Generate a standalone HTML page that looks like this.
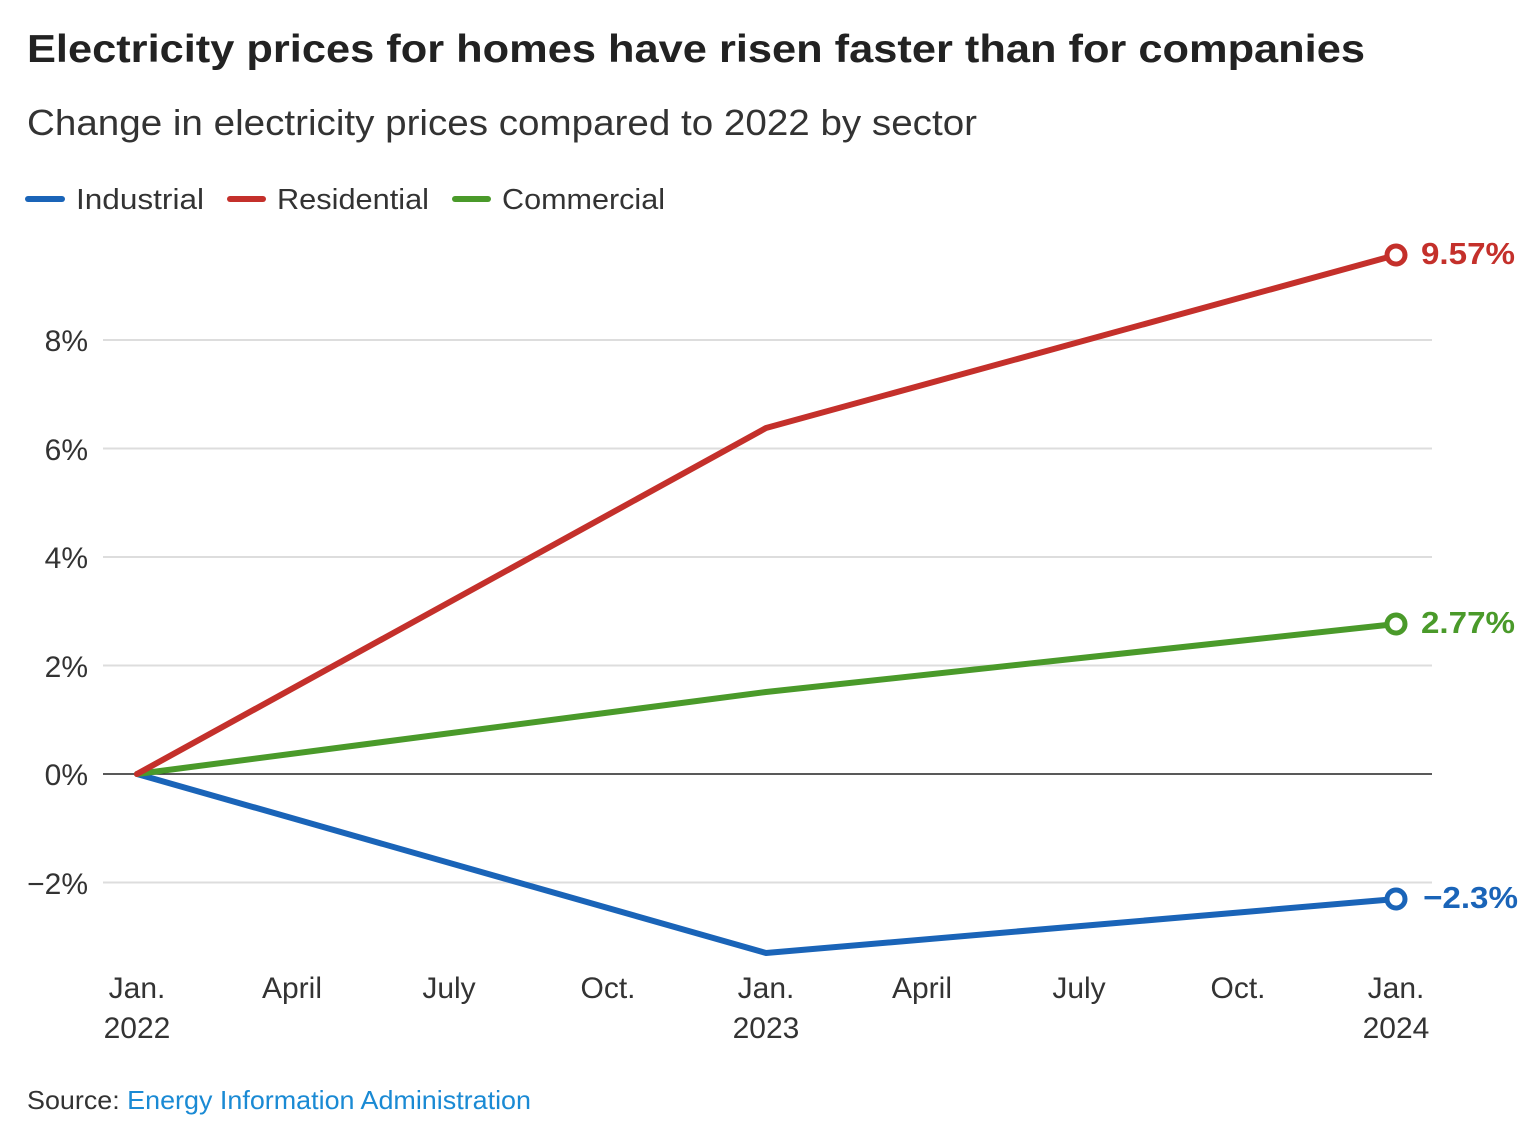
<!DOCTYPE html>
<html><head><meta charset="utf-8"><style>
body{margin:0;background:#fff;}
svg{display:block;font-family:"Liberation Sans",sans-serif;}
</style></head><body>
<svg width="1536" height="1136" viewBox="0 0 1536 1136" xmlns="http://www.w3.org/2000/svg">
<text x="27" y="62" font-size="39" font-weight="bold" fill="#222" textLength="1338" lengthAdjust="spacingAndGlyphs">Electricity prices for homes have risen faster than for companies</text>
<text x="27" y="135" font-size="36" fill="#333" textLength="950" lengthAdjust="spacingAndGlyphs">Change in electricity prices compared to 2022 by sector</text>
<g font-size="29" fill="#333">
<line x1="28" y1="199" x2="62" y2="199" stroke="#1a64b8" stroke-width="6" stroke-linecap="round"/>
<text x="76" y="209" textLength="128" lengthAdjust="spacingAndGlyphs">Industrial</text>
<line x1="230" y1="199" x2="263" y2="199" stroke="#c4302b" stroke-width="6" stroke-linecap="round"/>
<text x="277" y="209" textLength="152" lengthAdjust="spacingAndGlyphs">Residential</text>
<line x1="455" y1="199" x2="488" y2="199" stroke="#4a9a2a" stroke-width="6" stroke-linecap="round"/>
<text x="502" y="209" textLength="163" lengthAdjust="spacingAndGlyphs">Commercial</text>
</g>
<g stroke="#ddd" stroke-width="2">
<line x1="103" y1="340" x2="1432" y2="340"/>
<line x1="103" y1="448.5" x2="1432" y2="448.5"/>
<line x1="103" y1="557" x2="1432" y2="557"/>
<line x1="103" y1="665.5" x2="1432" y2="665.5"/>
<line x1="103" y1="882.5" x2="1432" y2="882.5"/>
</g>
<line x1="103" y1="774" x2="1432" y2="774" stroke="#222" stroke-width="1.5"/>
<g font-size="30" fill="#333" text-anchor="end">
<text x="88" y="351">8%</text>
<text x="88" y="460">6%</text>
<text x="88" y="568">4%</text>
<text x="88" y="677">2%</text>
<text x="88" y="785">0%</text>
<text x="88" y="894">−2%</text>
</g>
<g font-size="30" fill="#333" text-anchor="middle">
<text x="137" y="998">Jan.</text><text x="137" y="1038">2022</text>
<text x="292" y="998">April</text>
<text x="449" y="998">July</text>
<text x="608" y="998">Oct.</text>
<text x="766" y="998">Jan.</text><text x="766" y="1038">2023</text>
<text x="922" y="998">April</text>
<text x="1079" y="998">July</text>
<text x="1238" y="998">Oct.</text>
<text x="1396" y="998">Jan.</text><text x="1396" y="1038">2024</text>
</g>
<g fill="none" stroke-width="6" stroke-linejoin="round" stroke-linecap="round">
<polyline points="137,774 766,953 1396,899" stroke="#1a64b8"/>
<polyline points="137,774 766,692 1396,624" stroke="#4a9a2a"/>
<polyline points="137,774 766,428 1396,255" stroke="#c4302b"/>
</g>
<circle cx="1396" cy="255" r="9" fill="#fff" stroke="#c4302b" stroke-width="5"/>
<circle cx="1396" cy="624" r="9" fill="#fff" stroke="#4a9a2a" stroke-width="5"/>
<circle cx="1396" cy="899" r="9" fill="#fff" stroke="#1a64b8" stroke-width="5"/>
<g font-size="31" font-weight="bold">
<text x="1421" y="264" fill="#c4302b" textLength="94" lengthAdjust="spacingAndGlyphs">9.57%</text>
<text x="1421" y="633" fill="#4a9a2a" textLength="94" lengthAdjust="spacingAndGlyphs">2.77%</text>
<text x="1423" y="908" fill="#1a64b8" textLength="95" lengthAdjust="spacingAndGlyphs">−2.3%</text>
</g>
<text x="27" y="1109" font-size="26" fill="#333" textLength="504" lengthAdjust="spacingAndGlyphs">Source: <tspan fill="#1a8ad4">Energy Information Administration</tspan></text>
</svg>
</body></html>
